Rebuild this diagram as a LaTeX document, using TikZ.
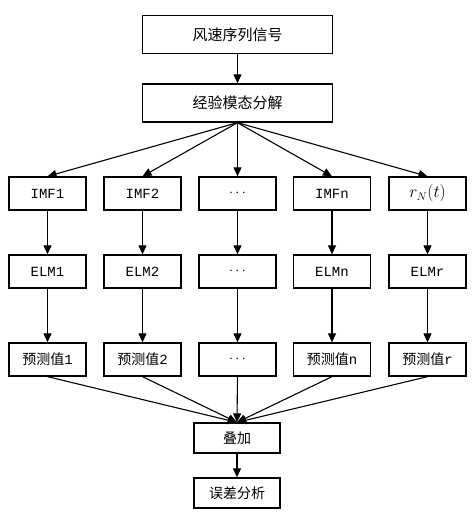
\documentclass[tikz,border=0pt]{standalone}
\usepackage{fontspec}
\newfontfamily\cjk{Noto Sans CJK SC}
\newfontfamily\lat{Liberation Mono}
\usetikzlibrary{arrows.meta}
\begin{document}
\begin{tikzpicture}[x=1pt,y=-1pt,
  box/.style={draw, line width=1.3pt, minimum width=77pt, minimum height=33pt, inner sep=0pt, font=\cjk\fontsize{14}{16}\selectfont},
  bigbox/.style={box, minimum width=190pt, minimum height=38pt, font=\cjk\fontsize{15}{17}\selectfont},
  midbox/.style={box, minimum width=86pt, minimum height=30pt},
  arr/.style={line width=1.1pt, -{Triangle[length=9pt,width=8pt]}}]
\useasboundingbox (0,0) rectangle (474,512);
\node[bigbox] (sig) at (237.5,34.5) {风速序列信号};
\node[bigbox] (emd) at (237.5,103) {经验模态分解};
\foreach \i/\x/\a/\b/\c in {1/47.5/{\lat IMF1}/{\lat ELM1}/{预测值\lat 1},
  2/142.5/{\lat IMF2}/{\lat ELM2}/{预测值\lat 2},
  3/237.5/{$\cdots$}/{$\cdots$}/{$\cdots$},
  4/332/{\lat IMFn}/{\lat ELMn}/{预测值\lat n},
  5/427.5/{\fontsize{16}{18}\selectfont$r_N(t)$}/{\lat ELMr}/{预测值\lat r}} {
  \node[box] (imf\i) at (\x,193.5) {\a};
  \node[box] (elm\i) at (\x,271.5) {\b};
  \node[box] (pre\i) at (\x,359.5) {\c};
}
\node[midbox] (sum) at (237,438) {叠加};
\node[midbox] (err) at (237,493) {误差分析};
\draw[arr] (sig) -- (emd);
\foreach \i in {1,...,5} {
  \draw[arr] (emd.south) -- (imf\i.north);
  \draw[arr] (imf\i) -- (elm\i);
  \draw[arr] (elm\i) -- (pre\i);
  \draw[arr] (pre\i.south) -- (sum.north);
}
\draw[arr] (sum) -- (err);
\end{tikzpicture}
\end{document}
